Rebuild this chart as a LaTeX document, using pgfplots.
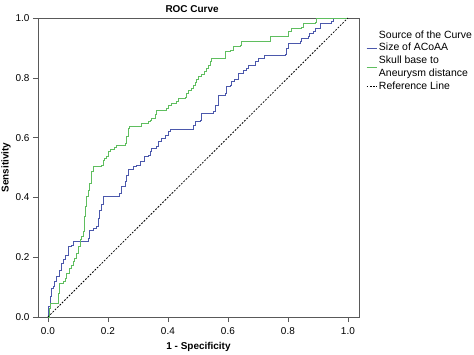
\documentclass[border=0pt]{standalone}
\usepackage{fontspec}
\setmainfont{Liberation Sans}
\usepackage{pgfplots}
\pgfplotsset{compat=1.18}
\definecolor{rocblue}{RGB}{75,88,172}
\definecolor{rocgreen}{RGB}{95,190,95}
\pgfplotsset{greenleg/.style={legend image code/.code={\draw[##1] (0bp,6.35bp) -- (10bp,6.35bp);}}}
\begin{document}
\begin{tikzpicture}
\begin{axis}[name=ax, scale only axis, width=321bp, height=299bp,
  xmin=-0.033, xmax=1.037, ymin=0, ymax=1,
  xtick={0,0.2,0.4,0.6,0.8,1.0}, ytick={0,0.2,0.4,0.6,0.8,1.0},
  /pgf/number format/assume math mode=true,
  xticklabel style={/pgf/number format/.cd,fixed,fixed zerofill,precision=1,/tikz/.cd,yshift=-2bp},
  yticklabel style={/pgf/number format/.cd,fixed,fixed zerofill,precision=1},
  tick align=outside, tick pos=left, major tick length=5bp,
  axis line style={black!65}, tick style={black!65},
  font=\fontsize{10}{12}\selectfont,
  title={\textbf{ROC Curve}},
  title style={at={(0.48,1)},anchor=south,yshift=-4.5bp},
  xlabel={\textbf{1 - Specificity}},
  ylabel={\textbf{Sensitivity}},
  xlabel style={yshift=-1bp},
  ylabel style={yshift=-2bp},
  legend image code/.code={\draw[#1] (0bp,0bp) -- (10bp,0bp);},
  legend style={at={(1,1)}, anchor=north west, xshift=4bp, yshift=-9bp,
    draw=none, fill=none, font=\fontsize{10.5}{12}\selectfont,
    row sep=0bp, nodes={inner ysep=0.85bp, text height=8bp, text depth=3bp}},
  legend cell align=left,
]
\addlegendimage{empty legend}
\addlegendentry{Source of the Curve}
\addplot[const plot, rocblue, line width=0.8bp] coordinates {
(0,0) (0.003,0.035) (0.009,0.068) (0.012,0.097) (0.018,0.101) (0.023,0.118)
(0.029,0.135) (0.04,0.157) (0.046,0.18) (0.051,0.191) (0.057,0.207) (0.068,0.235)
(0.079,0.241) (0.084,0.252) (0.129,0.252) (0.134,0.263) (0.14,0.291) (0.151,0.297)
(0.162,0.302) (0.168,0.33) (0.173,0.358) (0.179,0.375) (0.184,0.402) (0.234,0.402)
(0.24,0.414) (0.246,0.436) (0.257,0.452) (0.262,0.475) (0.268,0.492) (0.284,0.503)
(0.295,0.508) (0.307,0.519) (0.323,0.536) (0.334,0.542) (0.34,0.553) (0.346,0.564)
(0.362,0.57) (0.368,0.586) (0.379,0.598) (0.39,0.609) (0.401,0.62) (0.407,0.626)
(0.479,0.626) (0.484,0.642) (0.493,0.653) (0.507,0.659) (0.512,0.681) (0.551,0.687)
(0.557,0.709) (0.568,0.742) (0.59,0.748) (0.596,0.77) (0.607,0.776) (0.612,0.787)
(0.623,0.793) (0.634,0.815) (0.651,0.826) (0.662,0.832) (0.668,0.843) (0.69,0.854)
(0.701,0.865) (0.723,0.876) (0.79,0.879) (0.796,0.899) (0.801,0.915) (0.84,0.921)
(0.846,0.932) (0.868,0.937) (0.873,0.949) (0.884,0.955) (0.89,0.966) (0.901,0.966)
(0.907,0.982) (0.946,0.99) (0.951,1) (1,1)
};
\addlegendentry{Size of ACoAA}
\addlegendimage{empty legend}
\addlegendentry{Skull base to}
\addplot[const plot, rocgreen, line width=0.8bp, greenleg] coordinates {
(0,0) (0.004,0.03) (0.007,0.046) (0.029,0.046) (0.034,0.079) (0.04,0.113)
(0.051,0.118) (0.057,0.13) (0.062,0.146) (0.073,0.163) (0.079,0.174) (0.084,0.185)
(0.09,0.196) (0.096,0.213) (0.101,0.235) (0.107,0.258) (0.112,0.27) (0.118,0.285)
(0.123,0.335) (0.126,0.37) (0.129,0.402) (0.135,0.425) (0.14,0.447) (0.146,0.486)
(0.151,0.503) (0.179,0.508) (0.184,0.525) (0.19,0.53) (0.196,0.536) (0.201,0.553)
(0.207,0.559) (0.223,0.568) (0.229,0.575) (0.257,0.581) (0.262,0.603) (0.268,0.631)
(0.273,0.639) (0.307,0.639) (0.312,0.648) (0.334,0.653) (0.34,0.659) (0.346,0.665)
(0.357,0.676) (0.362,0.692) (0.396,0.698) (0.401,0.709) (0.412,0.715) (0.429,0.72)
(0.434,0.731) (0.457,0.735) (0.462,0.748) (0.468,0.759) (0.479,0.765) (0.484,0.776)
(0.49,0.785) (0.496,0.793) (0.501,0.804) (0.512,0.81) (0.523,0.82) (0.528,0.832)
(0.534,0.843) (0.54,0.854) (0.546,0.865) (0.584,0.865) (0.59,0.887) (0.607,0.893)
(0.618,0.904) (0.64,0.91) (0.646,0.921) (0.734,0.923) (0.74,0.937) (0.796,0.937)
(0.801,0.954) (0.812,0.966) (0.846,0.968) (0.851,0.982) (0.89,0.986) (0.896,1) (1,1)
};
\addlegendentry{Aneurysm distance}
\addplot[black, line width=0.8bp, dash pattern=on 1.8bp off 1.5bp] coordinates {(0,0) (1,1)};
\addlegendentry{Reference Line}
\end{axis}
\pgfresetboundingbox
\path[use as bounding box] ([shift={(-38bp,-38bp)}]ax.south west) rectangle ([shift={(115bp,18bp)}]ax.north east);
\end{tikzpicture}
\end{document}
